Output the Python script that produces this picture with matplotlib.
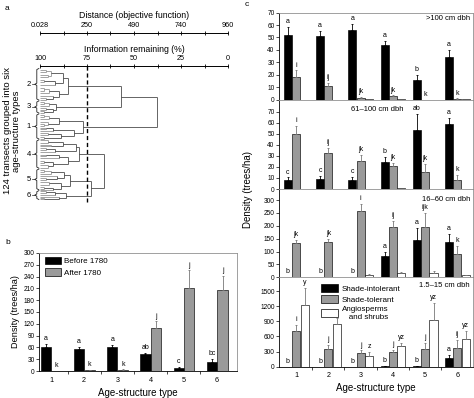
import matplotlib
matplotlib.use('Agg')
import matplotlib.pyplot as plt
import numpy as np
from matplotlib.patches import Patch

plt.rcParams['font.family'] = ['Liberation Sans', 'DejaVu Sans']

W, H = 474, 398
fig = plt.figure(figsize=(W / 100, H / 100), dpi=100)


def px_axes(l, t, r, b):
    return fig.add_axes([l / W, 1 - b / H, (r - l) / W, (b - t) / H])

# ---------------- data: panel a (dendrogram) ----------------
info_ticks = [100, 75, 50, 25, 0]
info_minor = [87.5, 62.5, 37.5, 12.5]
distance_labels = ['0.028', '250', '490', '740', '960']
cutoff_info = 75
# cluster subtrees: (merge height in % information remaining, left, right); int leaf = n transects
tree_c2 = (85, (88, (94, (97, 3, 2), (96, 2, 3)), (92, (98, 2, 2), 3)),
           (90, (95, (98, 3, 2), 2), (93, 3, (97, 2, 1))))
tree_c3 = (91.5, (95, (98, 2, 2), 2), (93, (97, 2, 1), (98, 2, 1)))
tree_c1 = (77, (90, (95, (98, 2, 2), 3), (96, 2, (98, 2, 1))),
           (82, (93, (97, 2, 1), 2), (89, (96, 2, 2), (98, 2, 1))))
tree_c4 = (79, (81, (88, (96, 2, 2), (94, 2, 1)), (92, (97, 2, 2), 2)),
           (85, (90, (97, 2, 1), 3), (93, (98, 2, 2), (96, 2, 2))))
tree_c5 = (84, (87, (94, (98, 2, 2), 2), (91, 2, (97, 2, 1))),
           (89, (95, 3, 2), (93, (98, 2, 1), 1)))
tree_c6 = (86, (92, (97, 2, 1), 2), (90, 2, (98, 1, 1)))
cluster_labels = ['2', '3', '1', '4', '5', '6']
cluster_trees = [tree_c2, tree_c3, tree_c1, tree_c4, tree_c5, tree_c6]
merge_23 = 56.9
merge_231 = 37.8
merge_56 = 72.9
merge_456 = 66.0
merge_root = 0.0

# ---------------- data: panel b ----------------
types = [1, 2, 3, 4, 5, 6]
before_1780 = [61, 57, 61, 42, 8, 24]
before_err = [8, 5, 5, 3, 3, 6]
before_letters = ['a', 'a', 'a', 'ab', 'c', 'bc']
after_1780 = [1, 2, 3, 109, 212, 207]
after_err = [0, 1, 1, 17, 44, 35]
after_letters = ['k', 'k', 'k', 'j', 'j', 'j']

# ---------------- data: panel c ----------------
size_classes = ['>100 cm dbh', '61\u2013100 cm dbh', '16\u201360 cm dbh', '1.5\u201315 cm dbh']
intol = [[52, 51, 56, 44, 16, 34],
         [8, 9, 8, 24, 53, 59],
         [3, 1, 2, 82, 146, 137],
         [0, 0, 0, 15, 5, 170]]
intol_err = [[6.5, 4, 5, 3.5, 4, 6],
             [2.5, 3, 3, 5, 15, 5.5],
             [0, 0, 0, 17, 46, 32],
             [0, 0, 0, 5, 3, 60]]
intol_letters = [['a', 'a', 'a', 'a', 'b', 'a'],
                 ['c', 'c', 'c', 'b', 'ab', 'a'],
                 ['b', 'b', 'b', 'a', 'a', 'a'],
                 ['b', 'b', 'b', 'b', 'b', 'a']]
tol = [[18.5, 10.5, 1.6, 2.7, 0, 0.6],
       [50, 33, 25, 21, 15, 8.5],
       [133, 137, 259, 197, 195, 92],
       [705, 345, 265, 296, 350, 380]]
tol_err = [[5, 3, 0.6, 0.6, 0, 0.3],
           [7, 4.5, 6, 2.5, 8, 4.5],
           [13, 13, 26, 21, 54, 29],
           [118, 85, 60, 30, 125, 145]]
tol_letters = [['i', 'ij', 'jk', 'jk', 'k', 'k'],
               ['i', 'ij', 'jk', 'jk', 'jk', 'k'],
               ['jk', 'jk', 'i', 'ij', 'ijk', 'k'],
               ['i', 'j', 'j', 'j', 'j', 'ij']]
angio = [[0, 0, 0.4, 0.3, 0, 0.2],
         [0, 0, 0, 0.5, 0, 0],
         [0, 1, 10, 15, 18, 7],
         [1220, 840, 220, 410, 920, 560]]
angio_err = [[0, 0, 0, 0, 0, 0],
             [0, 0, 0, 0, 0, 0],
             [0, 0, 3, 4, 8, 2],
             [350, 120, 75, 65, 350, 150]]
angio_letters = [['', '', '', '', '', ''],
                 ['', '', '', '', '', ''],
                 ['', '', '', '', '', ''],
                 ['y', 'y', 'z', 'yz', 'yz', 'yz']]
c_ylims = [70, 81, 343, 1776]
c_yticks = [np.arange(0, 71, 10), np.arange(0, 71, 10), np.arange(0, 301, 50), np.arange(0, 1501, 300)]

BLACK = '#000000'
GREY = '#9a9a9a'
WHITE = '#ffffff'
TICK_FS = 4.7
LET_FS = 5.0
LAB_FS = 7.0

# ================= panel a =================
axd = px_axes(40, 66, 228, 202)


def count(node):
    if isinstance(node, int):
        return node
    return count(node[1]) + count(node[2])


n_total = sum(count(t) for t in cluster_trees)
axd.set_xlim(100, 0)
axd.set_ylim(n_total + 1.9, -1.9)
LC = '#3a3a3a'
LEAF_C = '#8a8a8a'
LW = 0.55


def hline(x0, x1, y, c=LC):
    axd.plot([x0, x1], [y, y], color=c, lw=LW, solid_capstyle='butt')


def vline(x, y0, y1, c=LC):
    axd.plot([x, x], [y0, y1], color=c, lw=LW, solid_capstyle='butt')


def draw(node, start):
    if isinstance(node, int):
        return start + node / 2.0, 100.0, node
    h, L, R = node
    yl, hl, nl = draw(L, start)
    yr, hr, nr = draw(R, start + nl)
    cl = LEAF_C if h > 93 else LC
    hline(hl, h, yl, LEAF_C if hl == 100.0 else cl)
    hline(hr, h, yr, LEAF_C if hr == 100.0 else cl)
    vline(h, yl, yr, cl)
    return (yl + yr) / 2.0, h, nl + nr


def join(a, b, h):
    (ya, ha), (yb, hb) = a, b
    hline(ha, h, ya)
    hline(hb, h, yb)
    vline(h, ya, yb)
    return (ya + yb) / 2.0, h


start = 0
roots = []
spans = []
for tr in cluster_trees:
    y, h, n = draw(tr, start)
    roots.append((y, h))
    spans.append((start, start + n))
    start += n

g23 = join(roots[0], roots[1], merge_23)
g231 = join(g23, roots[2], merge_231)
g56 = join(roots[4], roots[5], merge_56)
g456 = join(roots[3], g56, merge_456)
vline(merge_root, g231[0], g456[0])

# dashed cut-off
axd.plot([cutoff_info, cutoff_info], [-1.9, n_total + 1.9], color='black', lw=1.0,
         dashes=(3, 2), clip_on=False)

# braces + cluster labels
for (s0, s1), lab in zip(spans, cluster_labels):
    a, b = s0 + 0.4, s1 - 0.4
    m = (a + b) / 2
    xa, xb, xc = 100.6, 101.7, 102.8
    axd.plot([xa, xb, xb, xc, xb, xb, xa], [a, a + 1.0, m - 1.0, m, m + 1.0, b - 1.0, b],
             color='#222222', lw=0.6, clip_on=False)
    axd.plot([xc, 104.0], [m, m], color='#222222', lw=0.5, clip_on=False)
    axd.text(106.0, m, lab, ha='center', va='center', fontsize=5.5)

for sp in ['left', 'right', 'bottom']:
    axd.spines[sp].set_visible(False)
axd.spines['top'].set_linewidth(0.7)
axd.set_yticks([])
axd.xaxis.set_ticks_position('top')
axd.xaxis.set_label_position('top')
axd.set_xticks(info_ticks)
axd.set_xticklabels([str(v) for v in info_ticks])
axd.set_xticks(info_minor, minor=True)
axd.tick_params(axis='x', which='both', direction='inout', length=3, width=0.6,
                labelsize=5.2, pad=1.2)
axd.set_xlabel('Information remaining (%)', fontsize=6.3, labelpad=2.5)

# distance axis
axt = px_axes(40, 33, 228, 34)
axt.set_xlim(100, 0)
axt.set_ylim(0, 1)
for sp in ['left', 'right', 'bottom']:
    axt.spines[sp].set_visible(False)
axt.spines['top'].set_linewidth(0.7)
axt.patch.set_alpha(0)
axt.set_yticks([])
axt.xaxis.set_ticks_position('top')
axt.xaxis.set_label_position('top')
axt.set_xticks(info_ticks)
axt.set_xticklabels(distance_labels)
axt.set_xticks(info_minor, minor=True)
axt.tick_params(axis='x', which='both', direction='inout', length=3, width=0.6,
                labelsize=5.2, pad=1.2)
axt.set_xlabel('Distance (objective function)', fontsize=6.3, labelpad=3)

fig.text(12 / W, 1 - 131 / H, '124 transects grouped into six\nage-structure types',
         rotation=90, ha='center', va='center', fontsize=6.8, linespacing=1.05)
fig.text(5 / W, 1 - 8 / H, 'a', fontsize=6, ha='left', va='center')


# ================= helper for bars =================
def style_axes(ax):
    for sp in ['left', 'bottom']:
        ax.spines[sp].set_linewidth(0.6)
        ax.spines[sp].set_color('black')
    for sp in ['top', 'right']:
        ax.spines[sp].set_linewidth(0.6)
        ax.spines[sp].set_color('#909090')
    ax.tick_params(axis='y', direction='out', length=2, width=0.5, labelsize=TICK_FS, pad=1.2)
    ax.tick_params(axis='x', which='major', length=0, labelsize=5.2, pad=4)
    ax.tick_params(axis='x', which='minor', direction='out', length=2, width=0.5)
    ax.set_xticks(np.arange(1.5, 6, 1.0), minor=True)


def bars(ax, x, vals, errs, offset, width, color, ecolor, letters):
    xs = np.array(x, dtype=float) + offset
    ax.bar(xs, vals, width, color=color, edgecolor='black', linewidth=0.45, zorder=2)
    for xi, v, e, l in zip(xs, vals, errs, letters):
        if e > 0:
            ax.errorbar([xi], [v], yerr=[[0], [e]], fmt='none', ecolor=ecolor, elinewidth=0.6,
                        capsize=1.0, capthick=0.6, zorder=3)
        if l:
            ax.annotate(l, (xi, v + e), xytext=(0, 1.3), textcoords='offset points',
                        ha='center', va='bottom', fontsize=LET_FS)


# ================= panel b =================
axb = px_axes(39, 253, 237, 371)
bars(axb, types, before_1780, before_err, -0.155, 0.31, BLACK, 'black', before_letters)
bars(axb, types, after_1780, after_err, 0.165, 0.31, GREY, '#777777', after_letters)
axb.set_xlim(0.64, 6.6)
axb.set_ylim(0, 300)
axb.set_yticks(np.arange(0, 301, 30))
axb.set_xticks(types)
style_axes(axb)
axb.set_xlabel('Age-structure type', fontsize=LAB_FS, labelpad=3)
axb.set_ylabel('Density (trees/ha)', fontsize=6.6, labelpad=3)
axb.legend(handles=[Patch(facecolor=BLACK, edgecolor='black', lw=0.5, label='Before 1780'),
                    Patch(facecolor=GREY, edgecolor='black', lw=0.5, label='After 1780')],
           loc='upper left', bbox_to_anchor=(0.03, 0.97), frameon=False, fontsize=5.8,
           handlelength=2.0, handleheight=1.1, handletextpad=0.4, labelspacing=0.35,
           borderaxespad=0, borderpad=0)
fig.text(5 / W, 1 - 242 / H, 'b', fontsize=6, ha='left', va='center')

# ================= panel c =================
tops = [12.7, 99.5, 189, 277.3]
bots = [99.5, 189, 277.3, 366.7]
title_pos = [(0.985, 0.93, 'right'), (0.504, 0.89, 'center'), (0.985, 0.885, 'right'),
             (0.985, 0.905, 'right')]
axes_c = []
for i in range(4):
    ax = px_axes(279, tops[i], 473, bots[i])
    axes_c.append(ax)
    bars(ax, types, intol[i], intol_err[i], -0.255, 0.25, BLACK, 'black', intol_letters[i])
    bars(ax, types, tol[i], tol_err[i], 0.0, 0.25, GREY, '#777777', tol_letters[i])
    bars(ax, types, angio[i], angio_err[i], 0.265, 0.25, WHITE, '#777777', angio_letters[i])
    ax.set_xlim(0.47, 6.49)
    ax.set_ylim(0, c_ylims[i])
    ax.set_yticks(c_yticks[i])
    ax.set_xticks(types)
    style_axes(ax)
    if i < 3:
        ax.set_xticklabels([])
    tx, ty, ha = title_pos[i]
    ax.text(tx, ty, size_classes[i], transform=ax.transAxes, ha=ha, va='center', fontsize=5.5)

axes_c[3].set_xlabel('Age-structure type', fontsize=LAB_FS, labelpad=3)
axes_c[3].legend(handles=[Patch(facecolor=BLACK, edgecolor='black', lw=0.5, label='Shade-intolerant'),
                          Patch(facecolor=GREY, edgecolor='black', lw=0.5, label='Shade-tolerant'),
                          Patch(facecolor=WHITE, edgecolor='black', lw=0.5,
                                label='Angiosperms\n   and shrubs')],
                 loc='upper left', bbox_to_anchor=(0.215, 0.92), frameon=False, fontsize=5.8,
                 handlelength=2.2, handleheight=1.1, handletextpad=0.4, labelspacing=0.25,
                 borderaxespad=0, borderpad=0)
fig.text(248 / W, 1 - 189 / H, 'Density (trees/ha)', rotation=90, ha='center', va='center',
         fontsize=LAB_FS)
fig.text(245 / W, 1 - 4 / H, 'c', fontsize=6, ha='left', va='center')

fig.savefig('out.png', dpi=100)
